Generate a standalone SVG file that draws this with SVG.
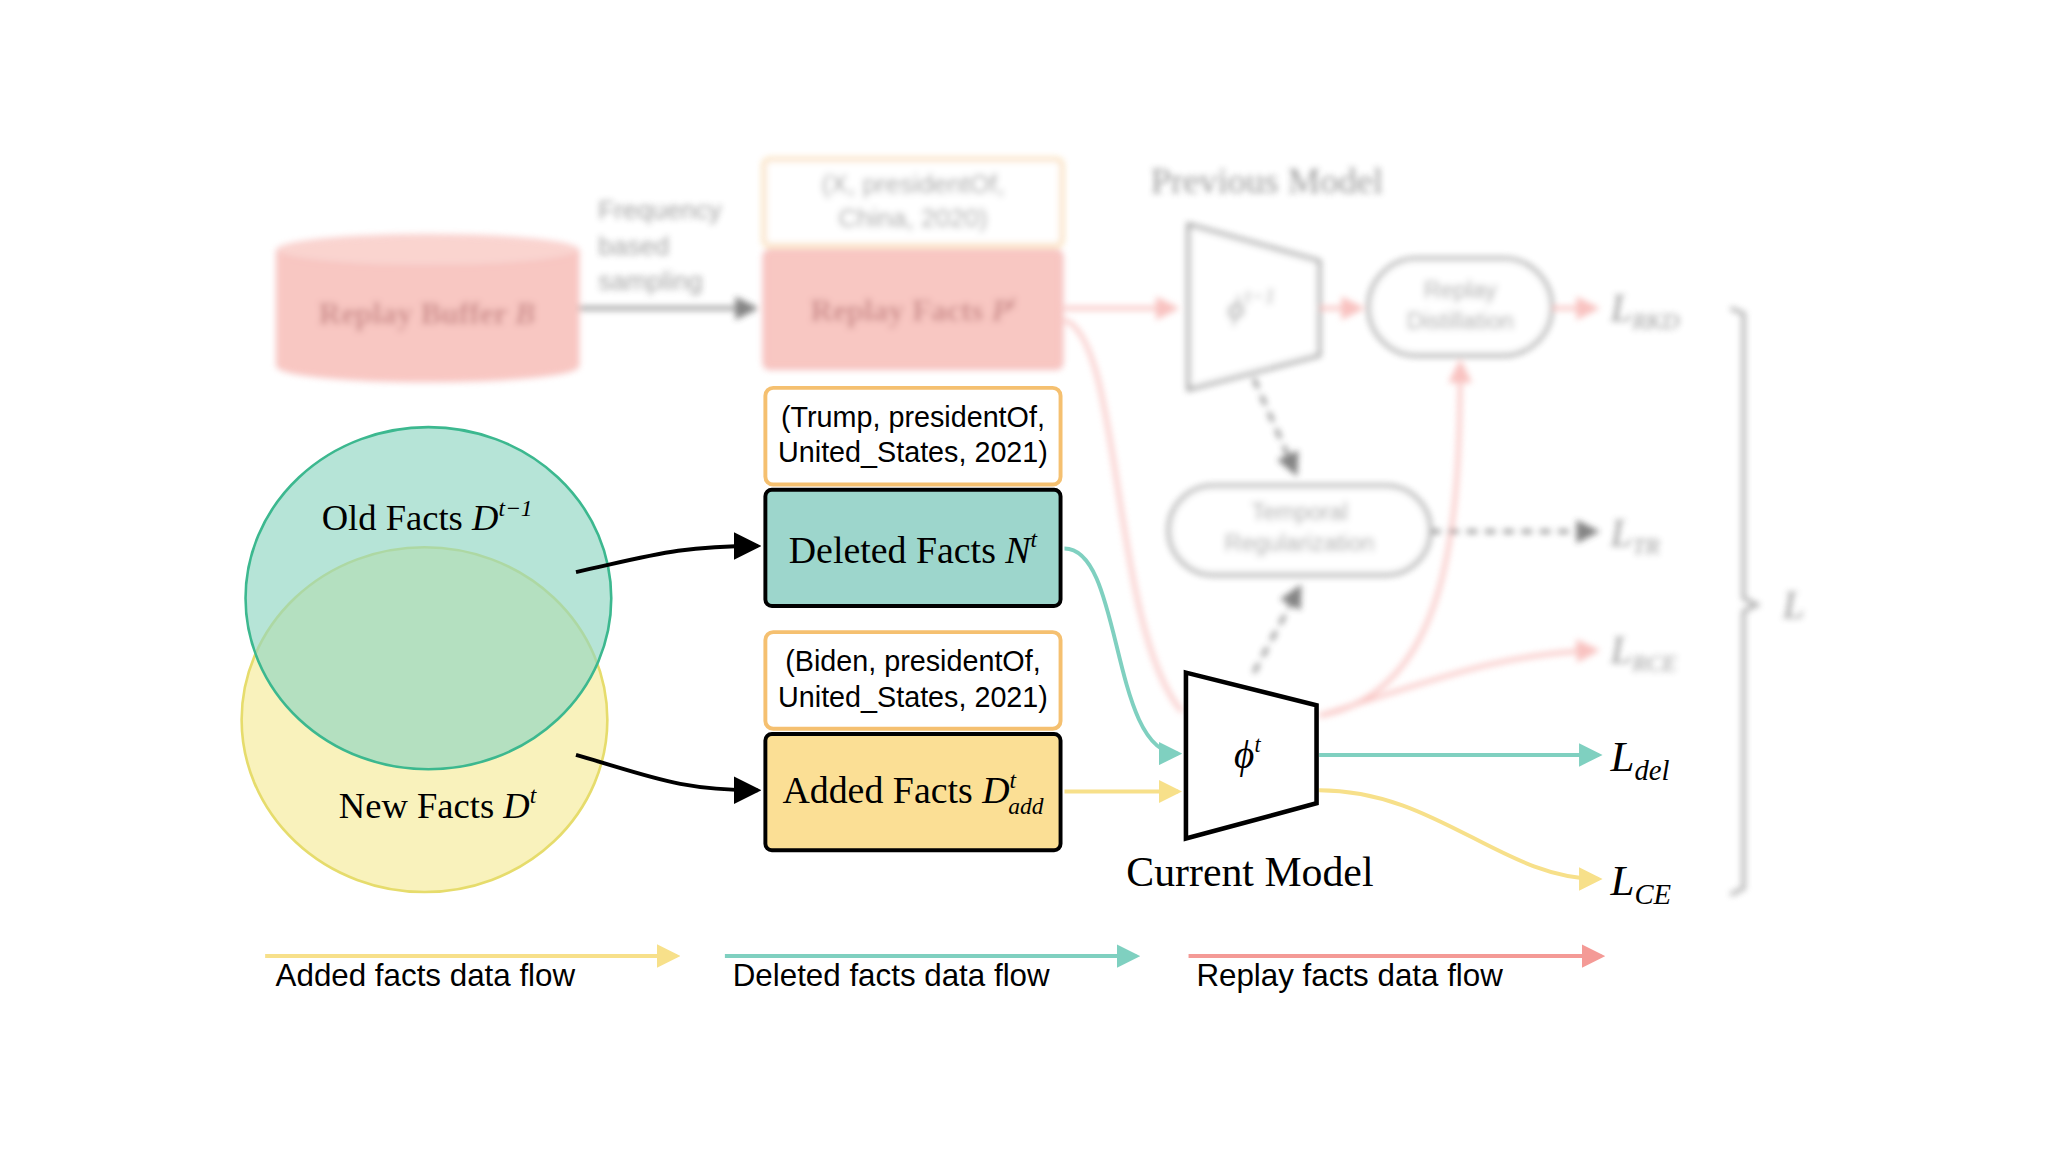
<svg xmlns="http://www.w3.org/2000/svg" width="2048" height="1152" viewBox="0 0 2048 1152">
<defs>
<filter id="bl" x="-10%" y="-10%" width="120%" height="120%"><feGaussianBlur stdDeviation="2.5"/></filter>
<marker id="ab" markerWidth="7" markerHeight="7" refX="6" refY="3.5" orient="auto" markerUnits="strokeWidth"><path d="M0,0 L7,3.5 L0,7 z" fill="#000"/></marker>
<marker id="at" markerWidth="6" markerHeight="6" refX="5" refY="3" orient="auto" markerUnits="strokeWidth"><path d="M0,0 L6,3 L0,6 z" fill="#7fd0c0"/></marker>
<marker id="ay" markerWidth="6" markerHeight="6" refX="5" refY="3" orient="auto" markerUnits="strokeWidth"><path d="M0,0 L6,3 L0,6 z" fill="#f7e08a"/></marker>
<marker id="ar" markerWidth="6" markerHeight="6" refX="5" refY="3" orient="auto" markerUnits="strokeWidth"><path d="M0,0 L6,3 L0,6 z" fill="#f49a96"/></marker>
<marker id="ag" markerWidth="6" markerHeight="6" refX="5" refY="3" orient="auto" markerUnits="strokeWidth"><path d="M0,0 L6,3 L0,6 z" fill="#333"/></marker>
<style>
.serif{font-family:"Liberation Serif","DejaVu Serif",serif}
.sans{font-family:"Liberation Sans",Arial,sans-serif}
.tb{fill:#fff;stroke:#f5c070;stroke-width:3}
</style>
</defs>
<rect width="2048" height="1152" fill="#fff"/>
<g transform="scale(1.3061)">
<g id="faded" opacity="0.6" filter="url(#bl)">
<g id="replay-buffer">
<path d="M212,192 L212,280 A115,12 0 0 0 443,280 L443,192" fill="#f4a29a" stroke="#e88"/>
<ellipse cx="327.5" cy="192" rx="115.5" ry="12" fill="#f7b8b0" stroke="#e88"/>
<text x="327" y="248" text-anchor="middle" class="serif" font-size="24" font-weight="bold" fill="#a33">Replay Buffer <tspan font-style="italic">B</tspan></text>
</g>
<text class="sans" font-size="20" fill="#666"><tspan x="458" y="168">Frequency</tspan><tspan x="458" y="195">based</tspan><tspan x="458" y="222">sampling</tspan></text>
<path d="M443,236 L578,236" stroke="#555" stroke-width="3" fill="none" marker-end="url(#ag)"/>
<g id="x-fact"><rect x="585" y="122" width="228" height="66" rx="4" class="tb"/>
<text x="699" y="148" text-anchor="middle" class="sans" font-size="20" fill="#444">(X, presidentOf,</text>
<text x="699" y="174" text-anchor="middle" class="sans" font-size="20" fill="#444">China, 2020)</text></g>
<g id="replay-facts"><rect x="585" y="192" width="228" height="90" rx="4" fill="#f4a29a" stroke="#e88" stroke-width="2"/>
<text x="699" y="246" text-anchor="middle" class="serif" font-size="24" font-weight="bold" fill="#a33">Replay Facts <tspan font-style="italic">P</tspan><tspan font-size="15" dy="-10" font-style="italic">t</tspan></text></g>
<text x="970" y="148" text-anchor="middle" class="serif" font-size="28" fill="#555">Previous Model</text>
<g id="prev-model"><path d="M910,172 L1010,200 L1010,272 L910,298 Z" fill="#fff" stroke="#555" stroke-width="3"/>
<text x="958" y="244" text-anchor="middle" class="serif" font-style="italic" font-size="26" fill="#444">ϕ<tspan font-size="16" dy="-12">t−1</tspan></text></g>
<g id="distill"><rect x="1048" y="198" width="140" height="74" rx="37" fill="#fff" stroke="#666" stroke-width="3"/>
<text x="1118" y="228" text-anchor="middle" class="sans" font-size="18" fill="#555">Replay</text>
<text x="1118" y="252" text-anchor="middle" class="sans" font-size="18" fill="#555">Distillation</text></g>
<g id="temporal"><rect x="895" y="372" width="200" height="68" rx="34" fill="#fff" stroke="#666" stroke-width="3"/>
<text x="995" y="398" text-anchor="middle" class="sans" font-size="18" fill="#555">Temporal</text>
<text x="995" y="422" text-anchor="middle" class="sans" font-size="18" fill="#555">Regularization</text></g>
<g fill="none" stroke-width="3">
<path d="M815,236 L900,236" stroke="#f49a96" marker-end="url(#ar)"/>
<path d="M1010,236 L1042,236" stroke="#f49a96" marker-end="url(#ar)"/>
<path d="M1188,236 L1222,236" stroke="#f49a96" marker-end="url(#ar)"/>
<path d="M815,245 C860,260 850,480 905,545" stroke="#f49a96"/>
<path d="M1010,548 C1110,530 1118,400 1118,278" stroke="#f49a96" marker-end="url(#ar)"/>
<path d="M1010,548 C1100,520 1150,500 1222,498" stroke="#f49a96" marker-end="url(#ar)"/>
<path d="M960,290 L992,362" stroke="#444" stroke-dasharray="8,6" marker-end="url(#ag)"/>
<path d="M960,515 L995,450" stroke="#444" stroke-dasharray="8,6" marker-end="url(#ag)"/>
<path d="M1095,407 L1222,407" stroke="#444" stroke-dasharray="8,6" marker-end="url(#ag)"/>
<path d="M1325,236 L1335,240 L1335,458 L1345,463 L1335,468 L1335,680 L1325,685" stroke="#777"/>
</g>
<text x="1233" y="246" class="serif" font-style="italic" font-size="30" fill="#555">L<tspan font-size="18" dy="6">RKD</tspan></text>
<text x="1233" y="418" class="serif" font-style="italic" font-size="30" fill="#555">L<tspan font-size="18" dy="6">TR</tspan></text>
<text x="1233" y="508" class="serif" font-style="italic" font-size="30" fill="#555">L<tspan font-size="18" dy="6">RCE</tspan></text>
<text x="1365" y="473" class="serif" font-style="italic" font-size="30" fill="#555">L</text>
</g>

<g id="new-facts"><ellipse cx="325" cy="551" rx="140" ry="132" fill="#f7eea5" fill-opacity="0.75" stroke="#e6dc6c" stroke-width="2"/></g>
<g id="old-facts"><ellipse cx="328" cy="458" rx="140" ry="131" fill="#8fd6c2" fill-opacity="0.65" stroke="#3cb88f" stroke-width="2"/></g>
<text x="327" y="406" text-anchor="middle" class="serif" font-size="28">Old Facts <tspan font-style="italic">D</tspan><tspan font-size="18" dy="-11" font-style="italic">t−1</tspan></text>
<text x="335" y="626" text-anchor="middle" class="serif" font-size="28">New Facts <tspan font-style="italic">D</tspan><tspan font-size="18" dy="-11" font-style="italic">t</tspan></text>

<g id="trump"><rect x="586" y="297" width="226" height="74" rx="6" class="tb"/>
<text x="699" y="327" text-anchor="middle" class="sans" font-size="22">(Trump, presidentOf,</text>
<text x="699" y="354" text-anchor="middle" class="sans" font-size="22">United_States, 2021)</text></g>
<g id="deleted"><rect x="586" y="375" width="226" height="89" rx="5" fill="#9dd6cc" stroke="#000" stroke-width="3"/>
<text x="699" y="431" text-anchor="middle" class="serif" font-size="29">Deleted Facts <tspan font-style="italic">N</tspan><tspan font-size="18" dy="-12" font-style="italic">t</tspan></text></g>
<g id="biden"><rect x="586" y="484" width="226" height="74" rx="6" class="tb"/>
<text x="699" y="514" text-anchor="middle" class="sans" font-size="22">(Biden, presidentOf,</text>
<text x="699" y="541" text-anchor="middle" class="sans" font-size="22">United_States, 2021)</text></g>
<g id="added"><rect x="586" y="562" width="226" height="89" rx="5" fill="#fbdf95" stroke="#000" stroke-width="3"/>
<text x="699" y="615" text-anchor="middle" class="serif" font-size="29">Added Facts <tspan font-style="italic">D</tspan><tspan font-size="18" dy="-12" font-style="italic">t</tspan><tspan font-size="18" dy="20" dx="-6" font-style="italic">add</tspan></text></g>
<g id="current"><path d="M908,515 L1008,540 L1008,615 L908,642 Z" fill="#fff" stroke="#000" stroke-width="3.5"/>
<text x="955" y="588" text-anchor="middle" class="serif" font-style="italic" font-size="30">ϕ<tspan font-size="17" dy="-12">t</tspan></text>
<text x="957" y="678" text-anchor="middle" class="serif" font-size="32">Current Model</text></g>
<text x="1233" y="590" class="serif" font-style="italic" font-size="33">L<tspan font-size="22" dy="7">del</tspan></text>
<text x="1233" y="685" class="serif" font-style="italic" font-size="33">L<tspan font-size="22" dy="7">CE</tspan></text>

<g id="connectors" fill="none">
<path d="M441,438 C500,425 520,418 580,418" stroke="#000" stroke-width="3" marker-end="url(#ab)"/>
<path d="M441,578 C500,595 520,605 580,605" stroke="#000" stroke-width="3" marker-end="url(#ab)"/>
<path d="M815,420 C860,420 850,577 902,577" stroke="#7fd0c0" stroke-width="3" marker-end="url(#at)"/>
<path d="M815,606 L902,606" stroke="#f7e08a" stroke-width="3" marker-end="url(#ay)"/>
<path d="M1010,578 L1224,578" stroke="#7fd0c0" stroke-width="3" marker-end="url(#at)"/>
<path d="M1010,605 C1100,605 1150,673 1224,673" stroke="#f7e08a" stroke-width="3" marker-end="url(#ay)"/>
<path d="M203,732 L518,732" stroke="#f7e08a" stroke-width="3" marker-end="url(#ay)"/>
<path d="M555,732 L870,732" stroke="#7fd0c0" stroke-width="3" marker-end="url(#at)"/>
<path d="M910,732 L1226,732" stroke="#f49a96" stroke-width="3" marker-end="url(#ar)"/>
</g>
<text x="211" y="755" class="sans" font-size="24">Added facts data flow</text>
<text x="561" y="755" class="sans" font-size="24">Deleted facts data flow</text>
<text x="916" y="755" class="sans" font-size="24">Replay facts data flow</text>
</g>
</svg>
